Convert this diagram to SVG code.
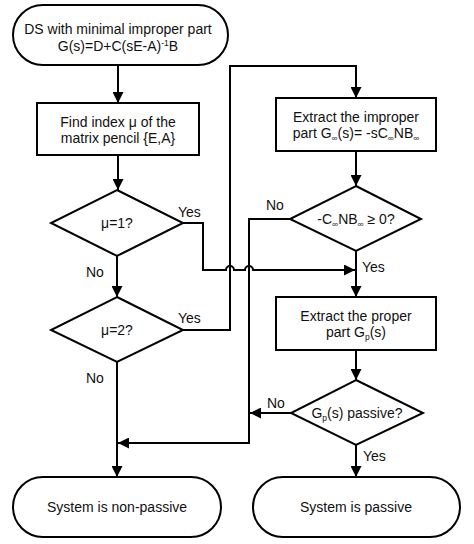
<svg xmlns="http://www.w3.org/2000/svg" width="474" height="544" viewBox="0 0 474 544">
<style>
.n{fill:#fff;stroke:#000;stroke-width:2}
.t{font-family:"Liberation Sans",Arial,sans-serif;font-size:14px;fill:#111;text-anchor:middle}
.l{font-family:"Liberation Sans",Arial,sans-serif;font-size:14px;fill:#111}
.sub{font-size:8.5px}
.c{fill:none;stroke:#000;stroke-width:2}
</style>
<defs>
<marker id="ah" markerUnits="userSpaceOnUse" markerWidth="11" markerHeight="11" refX="11" refY="5.5" orient="auto">
<path d="M0,0 L11,5.5 L0,11 z" fill="#000"/>
</marker>
</defs>
<rect width="474" height="544" fill="#fff"/>
<g id="connectors">
<path class="c" d="M118,65 V103" marker-end="url(#ah)"/>
<path class="c" d="M118,155 V190" marker-end="url(#ah)"/>
<path class="c" d="M117,256 V297" marker-end="url(#ah)"/>
<path class="c" d="M183,223 H203 V270 H226 a4,4 0 0 1 8,0 H245 a4,4 0 0 1 8,0 H355" marker-end="url(#ah)"/>
<path class="c" d="M183,330 H230 V66 H356 V98" marker-end="url(#ah)"/>
<path class="c" d="M117,362 V477" marker-end="url(#ah)"/>
<path class="c" d="M356,151 V186" marker-end="url(#ah)"/>
<path class="c" d="M290,219 H249 V443 H118" marker-end="url(#ah)"/>
<path class="c" d="M356,251 V297" marker-end="url(#ah)"/>
<path class="c" d="M356,350 V380" marker-end="url(#ah)"/>
<path class="c" d="M291,413 H250" marker-end="url(#ah)"/>
<path class="c" d="M356,445 V477" marker-end="url(#ah)"/>
<text class="l" x="178" y="217">Yes</text>
<text class="l" x="86" y="277">No</text>
<text class="l" x="178" y="323">Yes</text>
<text class="l" x="86" y="383">No</text>
<text class="l" x="266" y="210">No</text>
<text class="l" x="362" y="272">Yes</text>
<text class="l" x="267" y="408">No</text>
<text class="l" x="363" y="461">Yes</text>
</g>
<g id="start">
<rect class="n" x="13" y="5" width="215" height="60" rx="30"/>
<text class="t" x="118" y="34">DS with minimal improper part</text>
<text class="t" x="118" y="51">G(s)=D+C(sE-A)<tspan class="sub" dy="-5">-1</tspan><tspan dy="5">B</tspan></text>
</g>
<g id="findIndex">
<rect class="n" x="37" y="103" width="162" height="52"/>
<text class="t" x="118" y="127">Find index μ of the</text>
<text class="t" x="118" y="143">matrix pencil {E,A}</text>
</g>
<g id="mu1">
<polygon class="n" points="117,190 183,223 117,256 51,223"/>
<text class="t" x="117" y="228">μ=1?</text>
</g>
<g id="mu2">
<polygon class="n" points="117,297 183,330 117,362 51,330"/>
<text class="t" x="117" y="335">μ=2?</text>
</g>
<g id="improper">
<rect class="n" x="276" y="98" width="160" height="53"/>
<text class="t" x="356" y="122">Extract the improper</text>
<text class="t" x="356" y="138">part G<tspan class="sub" dy="3">∞</tspan><tspan dy="-3">(s)= -sC</tspan><tspan class="sub" dy="3">∞</tspan><tspan dy="-3">NB</tspan><tspan class="sub" dy="3">∞</tspan></text>
</g>
<g id="cond">
<polygon class="n" points="356,186 421,219 356,251 290,219"/>
<text class="t" x="356" y="224">-C<tspan class="sub" dy="3">∞</tspan><tspan dy="-3">NB</tspan><tspan class="sub" dy="3">∞</tspan><tspan dy="-3"> ≥ 0?</tspan></text>
</g>
<g id="proper">
<rect class="n" x="276" y="297" width="160" height="53"/>
<text class="t" x="356" y="321">Extract the proper</text>
<text class="t" x="356" y="337">part G<tspan class="sub" dy="3">p</tspan><tspan dy="-3">(s)</tspan></text>
</g>
<g id="passiveQ">
<polygon class="n" points="356,380 423,413 356,445 291,413"/>
<text class="t" x="357" y="418">G<tspan class="sub" dy="3">p</tspan><tspan dy="-3">(s) passive?</tspan></text>
</g>
<g id="nonpassive">
<rect class="n" x="13" y="477" width="208" height="60" rx="30"/>
<text class="t" x="117" y="512">System is non-passive</text>
</g>
<g id="passive">
<rect class="n" x="253" y="477" width="207" height="60" rx="30"/>
<text class="t" x="356" y="512">System is passive</text>
</g>
</svg>
